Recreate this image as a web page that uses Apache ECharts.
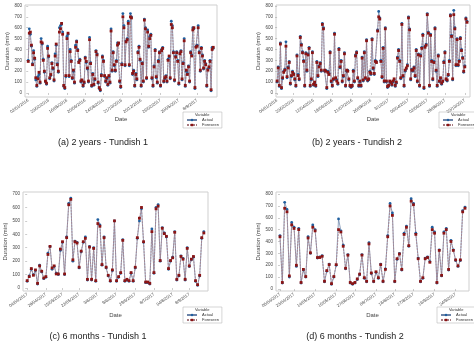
<!DOCTYPE html>
<html><head><meta charset="utf-8">
<script src="https://cdn.jsdelivr.net/npm/echarts@6/dist/echarts.min.js"></script>
<style>html,body{margin:0;padding:0;background:#fff}#c{width:474px;height:344px}</style>
</head><body><div id="c"></div>
<script>
// ---------- data ----------
const aActual = [300,590,540,430,270,390,310,120,60,150,170,90,500,450,310,190,100,80,430,330,130,160,280,220,110,360,440,270,190,600,620,630,560,60,40,150,520,540,150,400,300,130,200,90,440,480,400,290,310,100,110,60,90,330,280,220,100,510,280,60,180,70,120,390,360,90,40,20,170,340,300,150,100,130,70,150,90,590,200,380,250,200,300,460,450,100,50,270,730,620,250,480,500,660,250,730,700,170,210,60,180,120,380,430,300,60,280,100,680,600,130,580,420,520,540,130,60,250,400,140,90,300,380,60,400,420,100,130,160,100,310,330,130,660,620,380,110,340,380,300,80,370,390,120,280,500,60,200,180,250,100,380,350,600,590,40,430,440,620,380,200,420,350,220,300,270,60,220,230,300,20,420,410];
const aForeseen = [290,550,560,440,260,370,320,140,70,130,190,100,470,460,300,200,110,90,410,340,140,170,270,230,120,340,450,260,200,560,590,640,540,70,50,160,500,550,160,380,290,140,210,100,420,470,390,280,300,110,120,70,100,320,290,230,110,490,270,70,170,80,130,380,350,100,50,30,160,330,290,160,110,140,80,160,100,570,210,370,260,210,290,440,460,110,60,260,700,600,260,470,490,640,260,700,690,180,200,70,170,130,370,420,310,70,270,110,670,590,140,560,430,500,530,140,70,240,390,150,100,290,370,70,390,410,110,140,150,110,300,340,140,630,600,370,120,330,370,290,90,360,380,130,270,480,70,210,170,240,110,370,340,580,600,50,420,430,600,370,210,410,340,230,290,260,70,210,240,290,30,400,420];
const aTickIdx = [0,19,36,53,70,87,105,123,140,157];
const aTickLabels = ["02/01/2016","23/02/2016","16/05/2016","20/06/2016","24/08/2016","21/10/2016","20/12/2016","26/02/2017","20/05/2017","8/9/2017"];

const bActual = [100,240,60,460,40,130,200,220,470,140,240,290,80,150,200,180,120,60,350,170,120,520,450,380,300,60,370,200,360,420,60,120,380,70,90,60,290,150,250,280,200,640,600,200,210,40,200,180,380,100,60,120,550,130,120,80,410,230,300,100,150,370,60,200,210,120,60,50,60,210,100,350,380,130,60,100,60,330,110,380,130,490,110,120,200,170,500,220,170,300,290,580,750,690,300,140,420,100,600,100,50,60,100,90,70,100,120,60,90,330,400,300,130,640,150,60,200,220,260,700,590,120,220,200,240,150,400,100,360,60,350,420,540,40,430,450,730,560,60,540,300,120,290,600,200,60,350,100,130,80,100,290,380,120,110,160,300,720,530,120,760,600,250,500,250,300,510,400,330,190,250,690,660];
const bForeseen = [110,230,70,450,50,140,190,210,430,150,230,280,90,160,190,170,130,70,340,160,130,510,440,370,290,70,360,210,350,410,70,130,370,80,100,70,280,160,240,270,210,630,590,210,200,50,190,170,370,110,70,130,540,140,110,90,400,240,290,110,160,360,70,210,200,130,70,60,70,200,110,340,370,140,70,110,70,320,120,370,140,480,120,130,190,180,490,230,180,290,280,570,700,680,290,150,410,110,590,110,60,70,110,100,80,110,130,70,100,320,390,290,140,630,160,70,210,230,250,690,580,130,210,210,230,160,390,110,350,70,340,410,530,50,420,440,720,550,70,530,290,130,280,590,210,70,340,110,140,90,110,280,370,130,120,170,290,710,520,130,720,590,260,490,260,290,500,390,320,200,240,680,650];
const bTickIdx = [0,15,33,50,68,85,101,119,136,152,170];
const bTickLabels = ["04/01/2016","23/02/2016","12/04/2016","18/06/2016","21/07/2016","26/09/2016","3/1/2017","06/04/2017","02/06/2017","29/08/2017","23/10/2017"];

const cActual = [50,90,140,100,130,30,170,120,70,80,260,310,140,160,110,100,280,340,100,380,630,670,200,350,340,150,270,340,380,60,310,60,300,50,510,470,170,380,150,90,50,130,500,50,80,110,360,50,60,50,110,50,150,370,500,590,340,40,40,30,440,110,600,620,200,450,410,380,140,200,230,420,60,90,240,220,60,300,160,210,230,50,20,90,370,420];
const cForeseen = [55,85,145,95,135,35,165,125,75,85,250,310,150,165,105,105,290,345,105,375,620,660,210,345,335,155,275,345,370,65,305,65,295,55,480,460,175,375,155,95,55,135,500,55,85,115,355,55,65,55,115,55,155,375,520,600,345,45,45,35,420,115,590,610,205,445,405,385,145,205,225,415,65,95,235,215,65,295,165,215,235,55,25,95,375,410];
const cTickIdx = [0,9,17,25,34,43,52,61,70,78];
const cTickLabels = ["04/04/2017","29/04/2017","15/05/2017","22/05/2017","3/6/2017","9/6/2017","29/6/2017","8/7/2017","04/8/2017","8/9/2017"];

const dActual = [450,50,730,670,100,560,520,190,510,50,160,100,440,300,540,500,260,270,280,60,150,210,40,100,200,590,490,370,170,290,50,40,50,80,120,290,90,60,390,130,60,140,90,210,60,170,450,720,640,60,250,300,160,470,530,360,760,720,470,260,60,90,260,270,230,520,480,50,330,110,480,510,160,410,330,240,190,240,660,690];
const dForeseen = [440,55,680,650,110,540,510,200,500,55,165,105,430,305,520,490,265,265,275,65,155,205,45,105,205,500,480,360,175,285,55,45,55,85,125,285,95,65,380,135,65,145,95,205,65,165,440,700,620,65,255,295,165,460,520,365,740,710,460,255,65,95,255,265,225,500,470,55,325,115,470,500,165,400,325,245,195,245,650,680];
const dTickIdx = [0,6,15,24,32,41,49,57,66,75];
const dTickLabels = ["05/04/2017","23/04/2017","14/05/2017","16/05/2017","27/06/2017","08/7/2017","16/8/2017","27/8/2017","16/9/2017","24/9/2017"];

const y800Ticks = [0,100,200,300,400,500,600,700,800];
const y700Ticks = [0,100,200,300,400,500,600,700];
const seriesNames = ["Actual","Foreseen"];
const captions = ["(a) 2 years - Tundish 1","(b) 2 years - Tundish 2","(c) 6 months - Tundish 1","(d) 6 months - Tundish 2"];

// ---------- layout / build ----------
const panels = [
  {act:aActual, fc:aForeseen, ti:aTickIdx, tl:aTickLabels, yt:y800Ticks, grid:{left:25,top:5,width:192,height:92}, xr:[-3,175.5], yr:[-37,809], yNameGap:13, xNameGap:18, legend:[183,112], cap:[103,143]},
  {act:bActual, fc:bForeseen, ti:bTickIdx, tl:bTickLabels, yt:y800Ticks, grid:{left:276,top:5,width:194,height:92}, xr:[-1,174.7], yr:[-37,809], yNameGap:13, xNameGap:18, legend:[439,112], cap:[357,143]},
  {act:cActual, fc:cForeseen, ti:cTickIdx, tl:cTickLabels, yt:y700Ticks, grid:{left:23,top:192,width:185,height:99}, xr:[-2,87], yr:[-22,715], yNameGap:13, xNameGap:21, legend:[183,307], cap:[98,337]},
  {act:dActual, fc:dForeseen, ti:dTickIdx, tl:dTickLabels, yt:y800Ticks, grid:{left:276,top:192,width:193,height:99}, xr:[-1.7,80.7], yr:[-17,817], yNameGap:13, xNameGap:21, legend:[437,307], cap:[355,337]}
];
const FONT = "Liberation Sans, Arial, sans-serif";
const grids=[], xAxes=[], yAxes=[], series=[], legends=[], graphics=[];
panels.forEach((p,i)=>{
  grids.push(Object.assign({show:true, borderColor:'#cfcfcf', borderWidth:1, backgroundColor:'#fff'}, p.grid));
  xAxes.push({type:'value', gridIndex:i, min:p.xr[0], max:p.xr[1], name:'Date', nameLocation:'middle', nameGap:p.xNameGap,
    nameTextStyle:{fontSize:6, color:'#444', fontFamily:FONT},
    axisLine:{show:false}, splitLine:{show:false},
    axisTick:{show:true, customValues:p.ti, length:2, lineStyle:{color:'#999', width:0.5}},
    axisLabel:{customValues:p.ti, rotate:35, fontSize:4.3, color:'#444', margin:3, fontFamily:FONT,
      formatter:(v)=>{const k=p.ti.indexOf(Math.round(v)); return k>=0?p.tl[k]:'';}}});
  yAxes.push({type:'value', gridIndex:i, min:p.yr[0], max:p.yr[1], name:'Duration (min)', nameLocation:'middle', nameGap:p.yNameGap,
    nameTextStyle:{fontSize:6, color:'#444', fontFamily:FONT},
    axisLine:{show:false}, splitLine:{show:false},
    axisTick:{show:true, customValues:p.yt, length:2, lineStyle:{color:'#999', width:0.5}},
    axisLabel:{customValues:p.yt, fontSize:4.5, color:'#444', margin:3, fontFamily:FONT}});
  series.push({name:seriesNames[0], type:'line', xAxisIndex:i, yAxisIndex:i,
    data:p.act.map((v,k)=>[k,v]), symbol:'circle', symbolSize:2.8,
    lineStyle:{color:'#6b83a8', width:0.75}, itemStyle:{color:'#1f5f9f'}, color:'#1f5f9f'});
  series.push({name:seriesNames[1], type:'line', xAxisIndex:i, yAxisIndex:i,
    data:p.fc.map((v,k)=>[k,v]), symbol:'rect', symbolSize:2.8,
    lineStyle:{color:'#a87a80', width:0.75, type:[2,1]}, itemStyle:{color:'#8b1414'}, color:'#8b1414'});
  legends.push({data:seriesNames, orient:'vertical', left:p.legend[0], top:p.legend[1], itemGap:1, itemWidth:10, itemHeight:3,
    padding:[6,3,1,3], borderColor:'#bbb', borderWidth:0.6, selectedMode:false,
    textStyle:{fontSize:4, color:'#333', fontFamily:FONT}});
  graphics.push({type:'text', left:p.legend[0]+12, top:p.legend[1]+1, style:{text:'Variable', fontSize:4, fill:'#333', fontFamily:FONT}});
  graphics.push({type:'text', x:p.cap[0], y:p.cap[1], style:{text:captions[i], fontSize:9, fill:'#222', fontFamily:FONT, textAlign:'center', textVerticalAlign:'middle'}});
});
const chart = echarts.init(document.getElementById('c'), null, {renderer:'canvas'});
chart.setOption({animation:false, backgroundColor:'#fff', grid:grids, xAxis:xAxes, yAxis:yAxes, series:series, legend:legends, graphic:graphics});
</script></body></html>
